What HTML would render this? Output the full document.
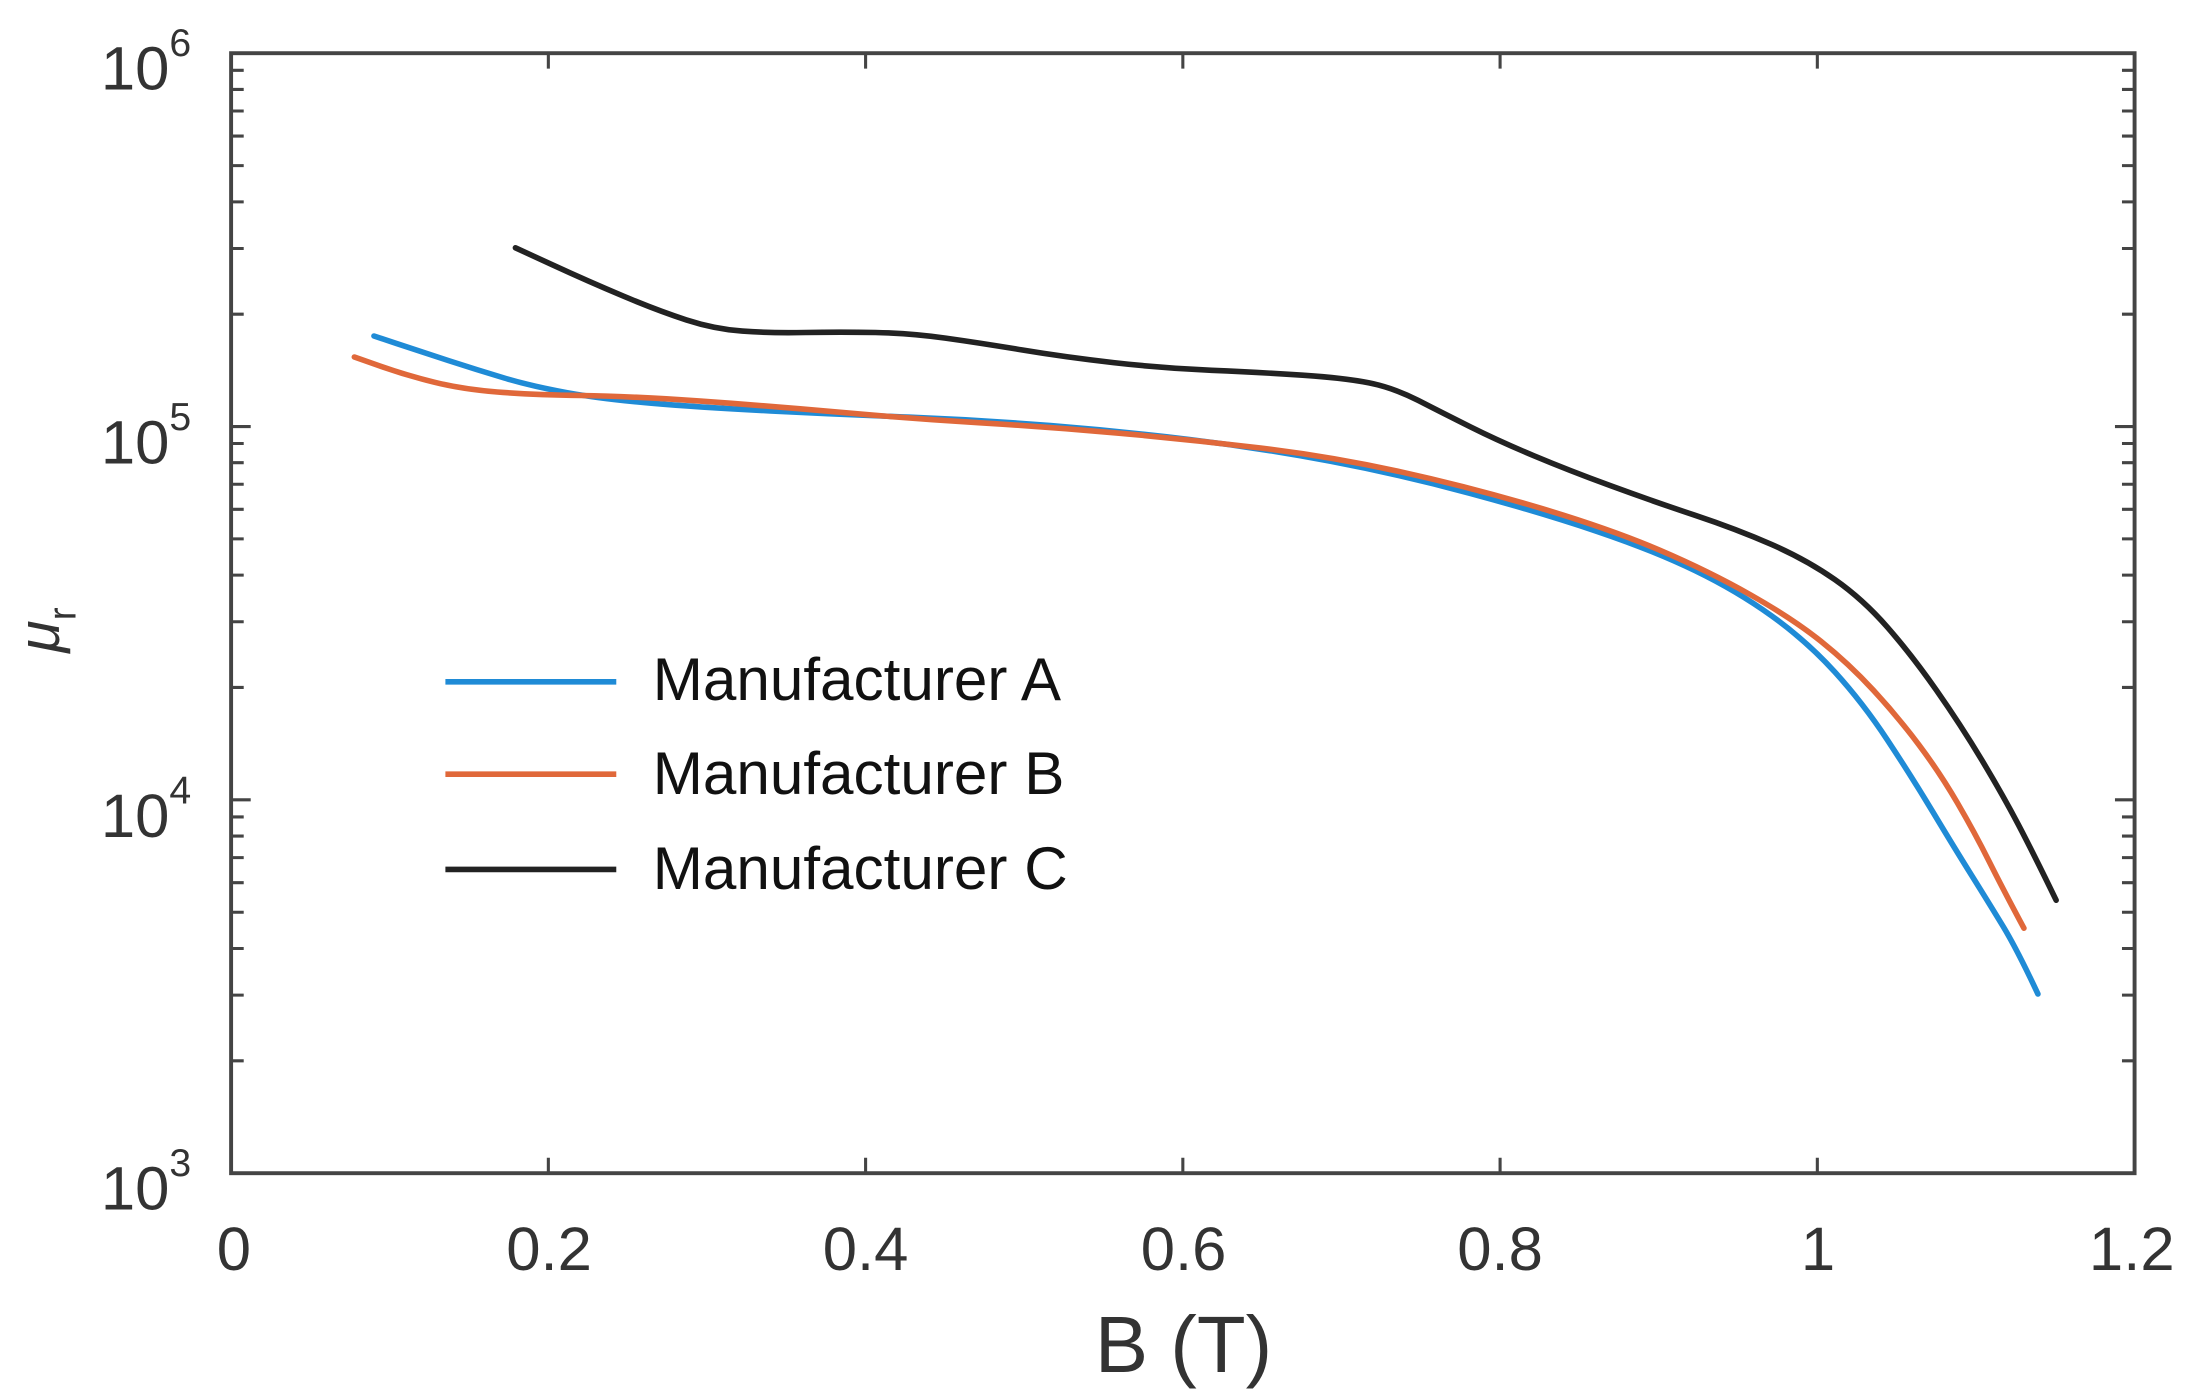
<!DOCTYPE html>
<html><head><meta charset="utf-8"><style>html,body{margin:0;padding:0;background:#fff;}svg{display:block}</style></head>
<body>
<svg width="2185" height="1400" viewBox="0 0 1560 1000" preserveAspectRatio="none" xmlns="http://www.w3.org/2000/svg" font-family="Liberation Sans, Arial, sans-serif">
<rect width="1560" height="1000" fill="#fff"/>
<g stroke="#444" stroke-width="2.8" fill="none">
<rect x="165" y="38" width="1359" height="800"/>
</g>
<g stroke="#444" stroke-width="2.2" fill="none">
<path d="M391.5 838v-11M391.5 38v11M618 838v-11M618 38v11M844.5 838v-11M844.5 38v11M1071 838v-11M1071 38v11M1297.5 838v-11M1297.5 38v11"/>
<path d="M165 757.7h9M1524 757.7h-9M165 710.8h9M1524 710.8h-9M165 677.5h9M1524 677.5h-9M165 651.6h9M1524 651.6h-9M165 630.5h9M1524 630.5h-9M165 612.6h9M1524 612.6h-9M165 597.2h9M1524 597.2h-9M165 583.5h9M1524 583.5h-9M165 571.3h14M1524 571.3h-14
M165 491h9M1524 491h-9M165 444.1h9M1524 444.1h-9M165 410.8h9M1524 410.8h-9M165 384.9h9M1524 384.9h-9M165 363.8h9M1524 363.8h-9M165 345.9h9M1524 345.9h-9M165 330.5h9M1524 330.5h-9M165 316.8h9M1524 316.8h-9M165 304.7h14M1524 304.7h-14
M165 224.4h9M1524 224.4h-9M165 177.5h9M1524 177.5h-9M165 144.2h9M1524 144.2h-9M165 118.3h9M1524 118.3h-9M165 97.2h9M1524 97.2h-9M165 79.3h9M1524 79.3h-9M165 63.9h9M1524 63.9h-9M165 50.2h9M1524 50.2h-9"/>
</g>
<g fill="#333" font-size="44" text-anchor="middle">
<text x="167" y="907">0</text>
<text x="392" y="907">0.2</text>
<text x="618" y="907">0.4</text>
<text x="845" y="907">0.6</text>
<text x="1071" y="907">0.8</text>
<text x="1298" y="907">1</text>
<text x="1522" y="907">1.2</text>
</g>
<g fill="#333" font-size="44" text-anchor="start">
<text x="72" y="64">10<tspan font-size="28" dy="-24">6</tspan></text>
<text x="72" y="331">10<tspan font-size="28" dy="-24">5</tspan></text>
<text x="72" y="598">10<tspan font-size="28" dy="-24">4</tspan></text>
<text x="72" y="864">10<tspan font-size="28" dy="-24">3</tspan></text>
</g>
<text x="845" y="980" font-size="57" fill="#333" text-anchor="middle">B (T)</text>
<text transform="translate(42,450) rotate(-90)" font-size="42" fill="#333" text-anchor="middle"><tspan font-style="italic">μ</tspan><tspan font-size="28" dy="12">r</tspan></text>
<g stroke-width="4">
<line x1="318" y1="487" x2="440" y2="487" stroke="#1f8bd6"/>
<line x1="318" y1="553" x2="440" y2="553" stroke="#e0683a"/>
<line x1="318" y1="621" x2="440" y2="621" stroke="#222"/>
</g>
<g font-size="43" fill="#111">
<text x="466" y="500">Manufacturer A</text>
<text x="466" y="567">Manufacturer B</text>
<text x="466" y="635">Manufacturer C</text>
</g>
<g fill="none" stroke-width="4" stroke-linejoin="round" stroke-linecap="round">
<path stroke="#1f8bd6" d="M267 240 L283.5 245.5 Q300 251 320 257.5 Q340 264 360 270 Q380 276 405 280.5 Q430 285 465 288 Q500 291 550 293.5 Q600 296 650 298 Q700 300 750 304 Q800 308 850 314 Q900 320 950 329.5 Q1000 339 1050 352.5 Q1100 366 1140 379.5 Q1180 393 1210 407.5 Q1240 422 1265 440 Q1290 458 1310 480 Q1330 502 1347.5 528.5 Q1365 555 1380 580 Q1395 605 1407.5 625 Q1420 645 1430 661.5 Q1440 678 1455 710"/>
<path stroke="#e0683a" d="M253 255 L271.5 261.5 Q290 268 310 273 Q330 278 355 280 Q380 282 415 282.5 Q450 283 500 286.5 Q550 290 600 294.5 Q650 299 700 302 Q750 305 800 309.5 Q850 314 900 320 Q950 326 1000 337 Q1050 348 1100 363 Q1150 378 1185 393 Q1220 408 1250 425 Q1280 442 1300 458 Q1320 474 1337.5 493 Q1355 512 1370 532 Q1385 552 1397.5 573.5 Q1410 595 1420 615 Q1430 635 1445 663"/>
<path stroke="#222" d="M368 177 L394 189 Q420 201 445 211.5 Q470 222 490 228.5 Q510 235 530 236.5 Q550 238 575 237.5 Q600 237 625 237.5 Q650 238 675 241.5 Q700 245 730 250 Q760 255 795 259 Q830 263 865 264.5 Q900 266 930 268 Q960 270 977.5 273.5 Q995 277 1012.5 286 Q1030 295 1050 305 Q1070 315 1095 325.5 Q1120 336 1150 347 Q1180 358 1210 368 Q1240 378 1265 389 Q1290 400 1310 414 Q1330 428 1347.5 448 Q1365 468 1382.5 493 Q1400 518 1415 543 Q1430 568 1441 589 Q1452 610 1468 643"/>
</g>
</svg>
</body></html>
